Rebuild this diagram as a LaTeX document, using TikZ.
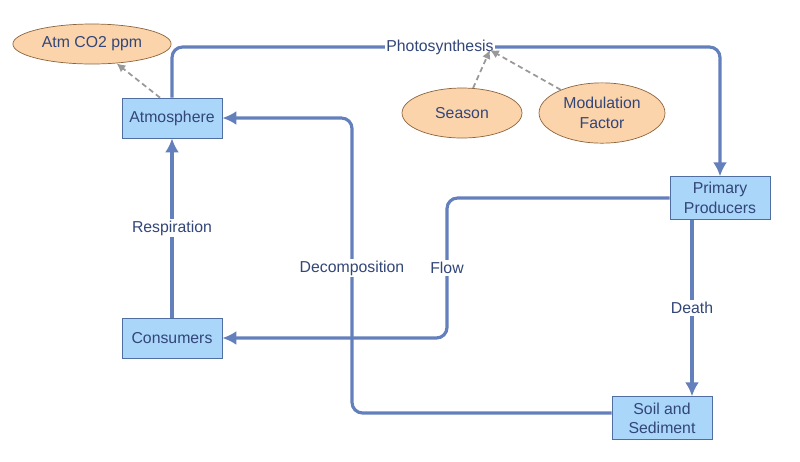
\documentclass[tikz,border=0pt]{standalone}
\usepackage{fontspec}
\setmainfont{Liberation Sans}
\usetikzlibrary{shapes.geometric}
\usetikzlibrary{arrows.meta}
\usetikzlibrary{positioning}
\definecolor{boxfill}{RGB}{170,214,250}
\definecolor{boxline}{RGB}{80,110,160}
\definecolor{flowline}{RGB}{100,128,188}
\definecolor{ovalfill}{RGB}{252,212,172}
\definecolor{ovalline}{RGB}{140,100,60}
\definecolor{labeltext}{RGB}{50,70,120}
\begin{document}
\begin{tikzpicture}[x=0.02cm, y=-0.02cm, font=\small,
	stock/.style = {rectangle, draw = boxline, fill = boxfill, minimum width = 2cm, minimum height = 0.8cm, align = center, text = labeltext},
	aux/.style = {ellipse, draw = ovalline, fill = ovalfill, minimum width = 2.4cm, minimum height = 1cm, align = center, text = labeltext},
	flow/.style = {draw = flowline, line width = 1.8pt, rounded corners = 6pt, -{Latex[length=8pt,width=8pt]}},
	link/.style = {draw = gray!80, densely dashed, line width = 1pt, -{Latex[length=5pt,width=5pt]}},
	lbl/.style = {fill = white, inner sep = 1pt, text = labeltext}]
		
		\useasboundingbox (0,0) rectangle (800,461);
		
		\node[stock] at (172,118) (atm) {Atmosphere};
		\node[stock] at (172,338) (con) {Consumers};
		\node[stock] at (720,198) (pp) {Primary\\Producers};
		\node[stock] at (662,418) (soil) {Soil and\\Sediment};
		\node[aux, minimum height = 0.8cm] at (92,44) (co2) {Atm CO2 ppm};
		\node[aux] at (462,113) (season) {Season};
		\node[aux] at (602,113) (mod) {Modulation\\Factor};
		\coordinate (photo) at (490,50);
		
		\draw[flow] (atm.north) -- (172,47) -| (pp.north);
		\draw[flow] (con) -- (atm);
		\draw[flow] (pp.west) -- (447,198) |- (con.east);
		\draw[flow] (pp.south -| 692,0) -- (soil.north -| 692,0);
		\draw[flow] (soil.west |- 0,413) -- (352,413) |- (atm.east);
		
		\node[lbl] at (440,47) {Photosynthesis};
		\node[lbl] at (172,228) {Respiration};
		\node[lbl] at (447,268) {Flow};
		\node[lbl] at (692,308) {Death};
		\node[lbl] at (352,268) {Decomposition};
		
		\path
		(atm.north -| 160,0) edge[link] (co2)
		(season) edge[link] (photo)
		(mod) edge[link] (photo)
		;
		
\end{tikzpicture}
\end{document}
